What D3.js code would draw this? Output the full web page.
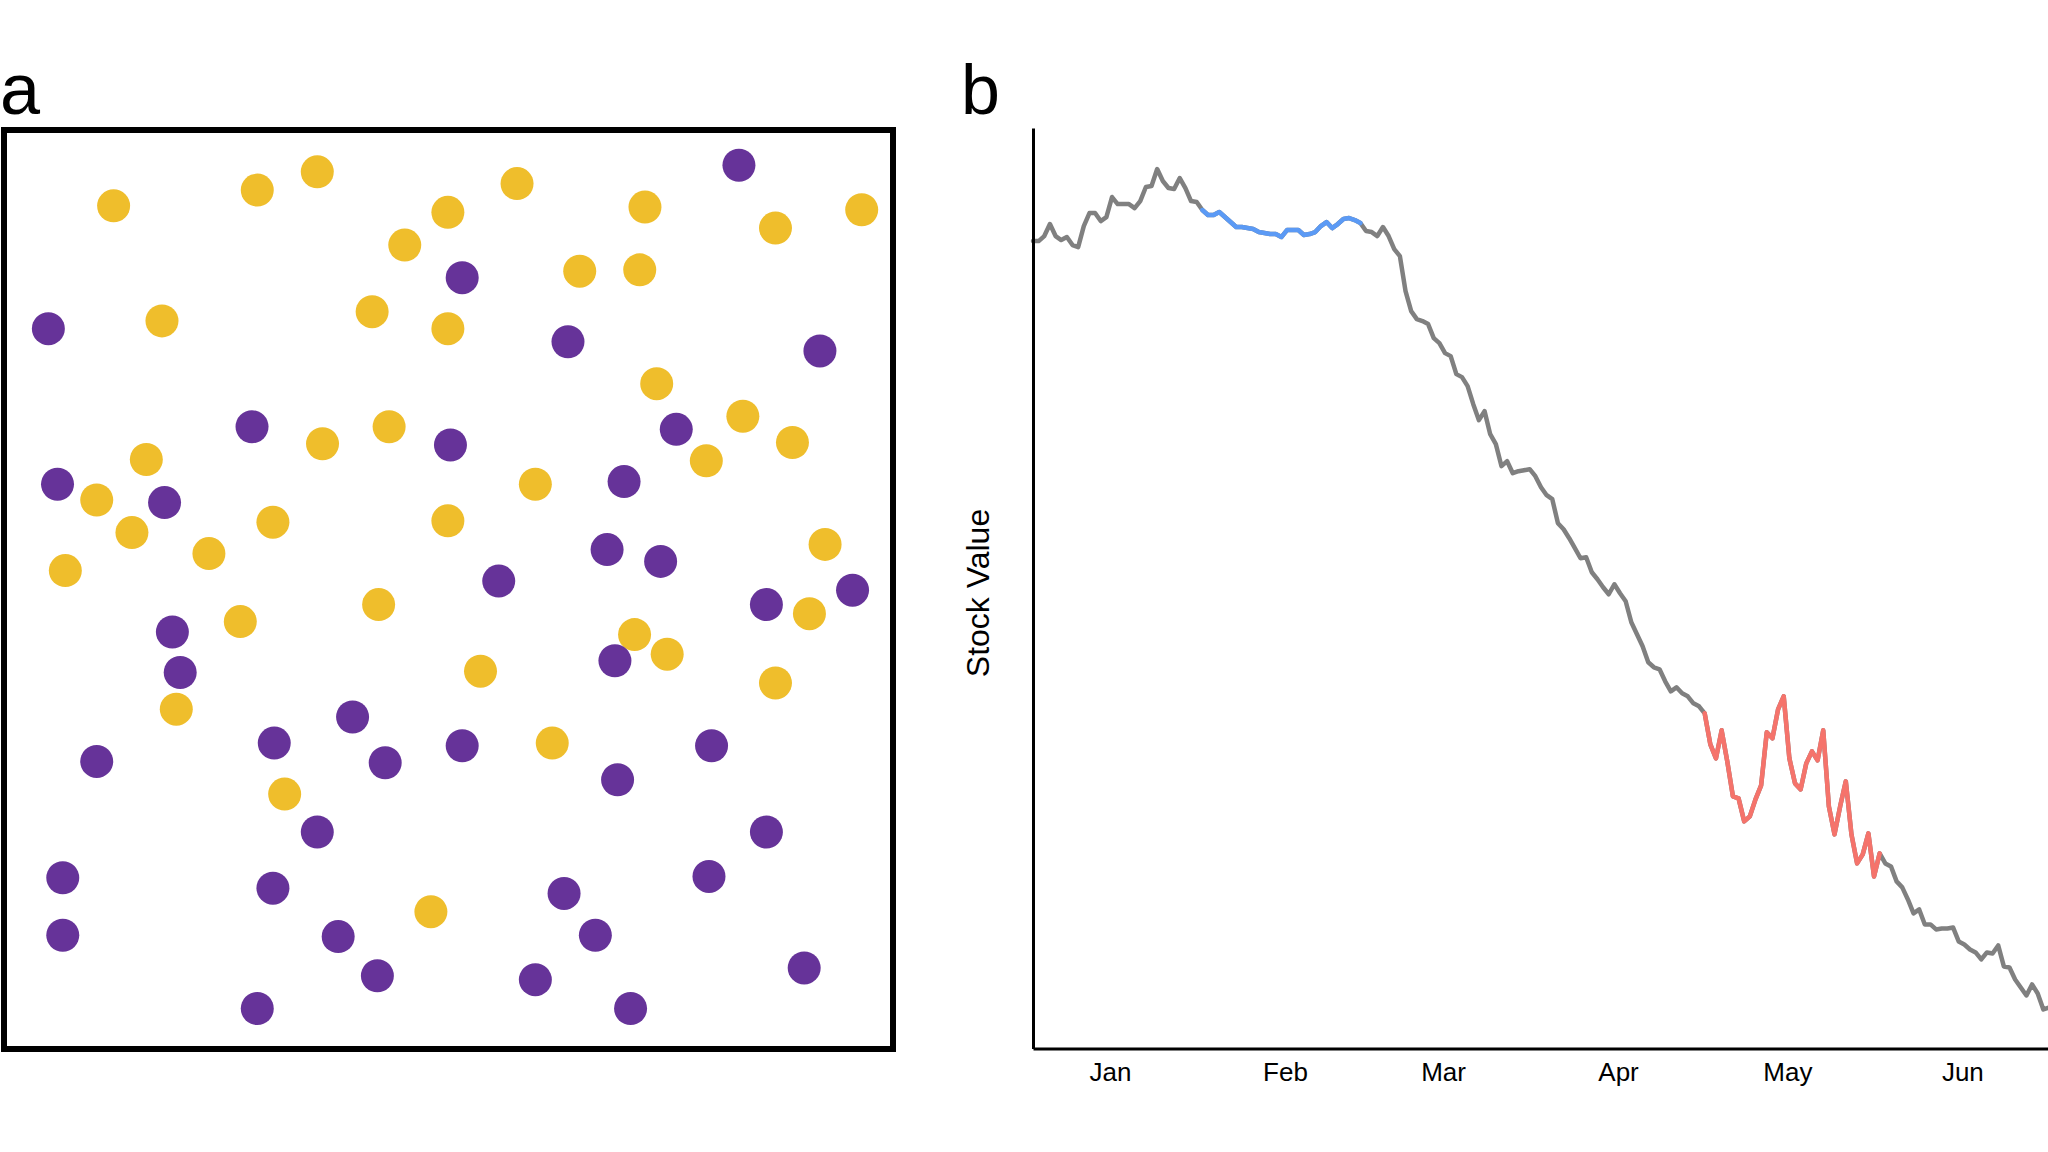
<!DOCTYPE html>
<html>
<head>
<meta charset="utf-8">
<script src="https://cdn.jsdelivr.net/npm/d3@7"></script>
<style>
  html, body { margin: 0; padding: 0; background: #ffffff; overflow: hidden; }
  svg { display: block; font-family: "Liberation Sans", Arial, Helvetica, sans-serif; }
</style>
</head>
<body>
<svg id="chart" width="2048" height="1152"></svg>
<script>
// ---------- Panel a: scatter (positions in 0-100 units inside the box) ----------
const yellowX = [12.33,28.49,35.24,57.71,49.93,72.10,86.78,96.48,45.08,64.76,71.51,17.77,41.41,49.93,73.42,83.11,88.69,79.00,35.83,43.32,16.01,10.43,14.39,6.90,23.05,30.25,49.93,59.77,92.36,90.60,42.14,26.58,70.93,74.60,53.60,86.78,19.38,61.67,31.57,48.02];
const yellowY = [91.75,93.46,95.45,94.17,91.04,91.61,89.33,91.32,87.48,84.64,84.78,79.23,80.23,78.38,72.40,68.85,66.00,64.01,65.86,67.71,64.15,59.74,56.19,52.06,53.91,57.33,57.47,61.45,54.91,47.37,48.36,46.51,45.09,42.96,41.11,39.83,36.98,33.29,27.74,14.94];
const purpleX = [82.67,51.54,4.99,63.44,91.78,27.90,75.62,50.22,6.02,18.06,69.75,67.84,73.86,55.65,95.45,85.76,18.94,19.82,68.72,39.21,30.40,42.88,51.54,79.59,10.43,69.02,35.24,85.76,6.61,30.25,63.00,79.30,6.61,37.59,66.52,42.00,59.77,90.01,28.49,70.48];
const purpleY = [96.16,83.93,78.38,76.96,75.96,67.71,67.43,65.72,61.45,59.46,61.74,54.34,53.06,50.92,49.93,48.36,45.38,40.97,42.25,36.13,33.29,31.15,33.00,33.00,31.29,29.30,23.61,23.61,18.63,17.50,16.93,18.78,12.38,12.23,12.38,7.97,7.54,8.82,4.41,4.41];

// ---------- Panel b: daily stock values ----------
const startDate = new Date(2022, 11, 18);
const stockValues = [
 403.5,403.5,406,412,406,404,405.5,401.5,400.5,411,
 417.5,417.5,413.5,415.5,425.5,422,422,422,420,423.5,
 430.5,431,439.5,433.5,430,429.5,435,430,423.5,423,
 419,416.5,416.5,418,415.5,413,410.5,410.5,410,409.5,
 408,407.5,407,407,405.5,409,409,409,406.5,407,
 408,411,413,410,412,414.5,415,414,412.5,408.5,
 408,406,410.5,406,399.5,396,378.5,368.5,364.5,363.5,
 362,355,352.5,347.5,346,337,335.5,331,322,314,
 318.5,307,302,291,293.5,287.5,288.5,289,289.5,286,
 280.5,276.5,274.5,262.5,259.5,255,250,245,245.5,238,
 234.5,230.5,227,232,227.5,223.5,213,207,201,193,
 190.5,189.5,183.5,178.5,180.5,177.5,176,172.5,171,167.5,
 152,145,159,143.5,126,125,113.5,116,124.5,131.5,
 158,155,169.5,176,145,132.5,129.5,142.5,148.5,144,
 159,121,107,121,133.5,107,92.5,97,107.5,86,
 97.5,92.5,91,83.5,80.5,74.5,67.5,69.5,62,62,
 59.5,60,60,60.5,53.5,52,49.5,48,44.5,48,
 47.5,51.5,41,40.5,34.5,30.5,26.5,32,27.5,19.5,
 20.5
];
const blueRange = [new Date(2023, 0, 17), new Date(2023, 1, 14)];
const redRange  = [new Date(2023, 3, 16), new Date(2023, 4, 17)];
const monthFormat = "%b";
const yLabel = "Stock Value";
const panelLabels = ["a", "b"];

// ---------- colours ----------
const COL_YELLOW = "#EFBE2C";
const COL_PURPLE = "#663399";
const COL_GREY = "#808080";
const COL_BLUE = "#5B9AF5";
const COL_RED = "#F5736B";

const svg = d3.select("#chart");
svg.append("rect").attr("width", 2048).attr("height", 1152).attr("fill", "#ffffff");

// ---------- Panel a ----------
const ax = d3.scaleLinear().domain([0, 100]).range([4, 893]);
const ay = d3.scaleLinear().domain([0, 100]).range([1049, 130]);
const pa = svg.append("g");
pa.append("rect")
  .attr("x", ax(0)).attr("y", ay(100))
  .attr("width", ax(100) - ax(0)).attr("height", ay(0) - ay(100))
  .attr("fill", "none").attr("stroke", "#000").attr("stroke-width", 6);

const yellowPts = yellowX.map((x, i) => ({x, y: yellowY[i], c: COL_YELLOW}));
const purplePts = purpleX.map((x, i) => ({x, y: purpleY[i], c: COL_PURPLE}));
pa.selectAll("circle.dot").data(yellowPts.concat(purplePts)).join("circle")
  .attr("class", "dot")
  .attr("cx", d => ax(d.x)).attr("cy", d => ay(d.y))
  .attr("r", 16.5).attr("fill", d => d.c);

svg.append("text").attr("x", 0).attr("y", 114)
  .attr("font-size", 72).attr("fill", "#000").text(panelLabels[0]);

// ---------- Panel b ----------
const data = stockValues.map((v, i) => ({date: d3.timeDay.offset(startDate, i), v}));
const x = d3.scaleTime().domain([data[0].date, data[data.length - 1].date]).range([1033, 2049]);
const y = d3.scaleLinear().domain([0, 460]).range([1048.5, 128]);

const line = d3.line().x(d => x(d.date)).y(d => y(d.v));
const pb = svg.append("g");

pb.append("path").datum(data)
  .attr("d", line).attr("fill", "none")
  .attr("stroke", COL_GREY).attr("stroke-width", 4.5)
  .attr("stroke-linejoin", "round").attr("stroke-linecap", "round");

[[blueRange, COL_BLUE], [redRange, COL_RED]].forEach(([r, c]) => {
  const seg = data.filter(d => d.date >= r[0] && d.date <= r[1]);
  pb.append("path").datum(seg)
    .attr("d", line).attr("fill", "none")
    .attr("stroke", c).attr("stroke-width", 4.5)
    .attr("stroke-linejoin", "round").attr("stroke-linecap", "round");
});

const xAxis = d3.axisBottom(x)
  .ticks(d3.timeMonth.every(1))
  .tickFormat(d3.timeFormat(monthFormat))
  .tickSize(0).tickSizeOuter(0).tickPadding(14);
const gx = pb.append("g").attr("transform", `translate(0, ${y(0)})`).call(xAxis);
gx.select(".domain").attr("stroke", "#000").attr("stroke-width", 3);
gx.selectAll(".tick text").attr("font-size", 26).attr("fill", "#000")
  .attr("dx", -2)
  .attr("font-family", "'Liberation Sans', Arial, sans-serif");

const yAxis = d3.axisLeft(y).tickValues([]).tickSizeOuter(0);
const gy = pb.append("g").attr("transform", `translate(${x.range()[0]}, 0)`).call(yAxis);
gy.select(".domain").attr("stroke", "#000").attr("stroke-width", 3);

svg.append("text")
  .attr("transform", `translate(989, 593) rotate(-90)`)
  .attr("text-anchor", "middle")
  .attr("font-size", 32).attr("fill", "#000").text(yLabel);

svg.append("text").attr("x", 961).attr("y", 114)
  .attr("font-size", 70).attr("fill", "#000").text(panelLabels[1]);
</script>
</body>
</html>
